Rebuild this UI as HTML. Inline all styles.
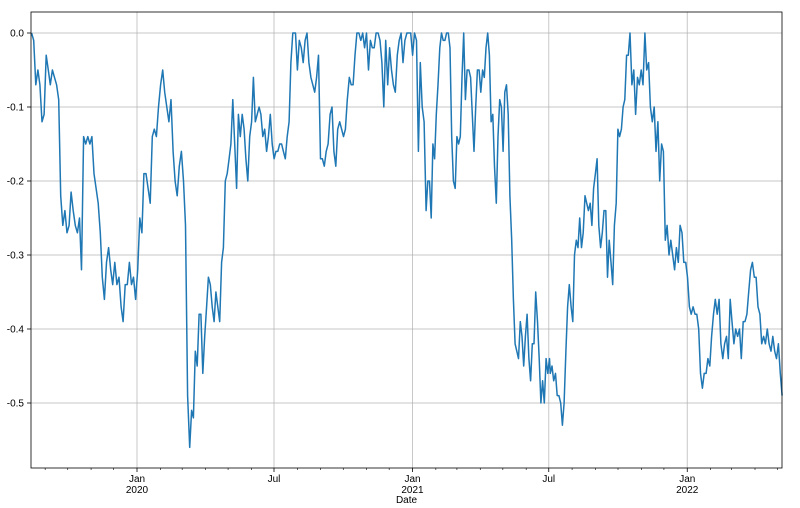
<!DOCTYPE html>
<html><head><meta charset="utf-8"><style>
html,body{margin:0;padding:0;background:#fff;}
svg{display:block;font-family:"Liberation Sans","DejaVu Sans",sans-serif;}
</style></head><body>
<svg id="chart" width="800" height="508" viewBox="0 0 800 508"></svg>
<script>
// Segment date ranges (data)
const segStarts = ["2019-08-14","2020-03-11","2020-07-27","2021-01-19","2021-05-15","2021-07-03","2021-10-17"];
const segEnds   = ["2020-03-11","2020-07-26","2021-01-19","2021-05-15","2021-07-02","2021-10-17","2022-05-07"];
const seg1 = [0,-0.01,-0.07,-0.05,-0.07,-0.12,-0.11,-0.03,-0.05,-0.07,-0.05,-0.06,-0.07,-0.09,-0.22,-0.26,-0.24,-0.27,-0.26,-0.215,-0.24,-0.26,-0.27,-0.25,-0.32,-0.14,-0.15,-0.14,-0.15,-0.14,-0.19,-0.21,-0.23,-0.27,-0.33,-0.36,-0.31,-0.29,-0.32,-0.34,-0.31,-0.34,-0.33,-0.37,-0.39,-0.34,-0.34,-0.31,-0.34,-0.33,-0.36,-0.32,-0.25,-0.27,-0.19,-0.19,-0.21,-0.23,-0.14,-0.13,-0.14,-0.1,-0.07,-0.05,-0.08,-0.1,-0.12,-0.09,-0.16,-0.2,-0.22,-0.18,-0.16,-0.2,-0.26,-0.49,-0.56];
const seg2 = [-0.56,-0.51,-0.52,-0.43,-0.45,-0.38,-0.38,-0.46,-0.41,-0.37,-0.33,-0.34,-0.37,-0.39,-0.35,-0.37,-0.39,-0.31,-0.29,-0.2,-0.19,-0.17,-0.15,-0.09,-0.15,-0.21,-0.11,-0.14,-0.11,-0.13,-0.17,-0.2,-0.14,-0.12,-0.06,-0.12,-0.11,-0.1,-0.11,-0.14,-0.13,-0.16,-0.14,-0.11,-0.15,-0.17,-0.16,-0.16,-0.15,-0.15,-0.16,-0.17,-0.14,-0.12,-0.04,0];
const seg3 = [0,0,-0.05,-0.01,-0.02,-0.04,-0.01,0,-0.04,-0.06,-0.07,-0.08,-0.06,-0.03,-0.17,-0.17,-0.18,-0.16,-0.15,-0.11,-0.1,-0.16,-0.18,-0.13,-0.12,-0.13,-0.14,-0.13,-0.09,-0.06,-0.07,-0.07,-0.03,0,0,-0.01,0,-0.02,0,-0.05,-0.01,-0.02,-0.02,0,0,-0.01,-0.04,-0.1,-0.01,-0.07,-0.02,-0.05,-0.07,-0.08,-0.03,-0.01,0,-0.04,-0.01,0,0,0,-0.03,0,-0.01,-0.16,-0.04,-0.1,-0.12,-0.24];
const seg4 = [-0.24,-0.2,-0.2,-0.25,-0.15,-0.17,-0.11,-0.07,-0.02,0,-0.01,-0.01,0,0,-0.02,-0.14,-0.2,-0.21,-0.14,-0.15,-0.14,-0.06,0,-0.09,-0.05,-0.05,-0.06,-0.11,-0.16,-0.1,-0.05,-0.05,-0.08,-0.05,-0.06,-0.02,0,-0.03,-0.12,-0.11,-0.18,-0.23,-0.14,-0.09,-0.1,-0.16,-0.08,-0.07,-0.11,-0.22,-0.28,-0.36];
const seg5 = [-0.36,-0.42,-0.43,-0.44,-0.39,-0.41,-0.45,-0.41,-0.38,-0.44,-0.47,-0.42,-0.42,-0.35,-0.39,-0.44,-0.5,-0.47,-0.5,-0.44,-0.46,-0.44];
const seg6 = [-0.46,-0.45,-0.47,-0.46,-0.49,-0.49,-0.5,-0.53,-0.5,-0.43,-0.37,-0.34,-0.37,-0.39,-0.3,-0.28,-0.29,-0.25,-0.29,-0.27,-0.22,-0.23,-0.24,-0.23,-0.26,-0.21,-0.19,-0.17,-0.26,-0.29,-0.27,-0.24,-0.24,-0.33,-0.28,-0.31,-0.34,-0.26,-0.23,-0.13,-0.14,-0.13,-0.1,-0.09,-0.03,-0.03,0];
const seg7 = [0,-0.07,-0.05,-0.11,-0.06,-0.07,-0.05,-0.07,0,-0.05,-0.04,-0.1,-0.12,-0.1,-0.16,-0.12,-0.2,-0.15,-0.16,-0.28,-0.26,-0.3,-0.28,-0.3,-0.32,-0.29,-0.31,-0.26,-0.27,-0.31,-0.31,-0.33,-0.37,-0.38,-0.37,-0.38,-0.38,-0.4,-0.46,-0.48,-0.46,-0.46,-0.44,-0.45,-0.41,-0.38,-0.36,-0.38,-0.36,-0.42,-0.44,-0.42,-0.41,-0.44,-0.36,-0.39,-0.42,-0.4,-0.41,-0.4,-0.44,-0.39,-0.39,-0.38,-0.35,-0.32,-0.31,-0.33,-0.33,-0.37,-0.38,-0.42,-0.41,-0.42,-0.4,-0.42,-0.43,-0.41,-0.43,-0.44,-0.42,-0.46,-0.49];
const yTicks = [0.0,-0.1,-0.2,-0.3,-0.4,-0.5];
const yTickLabels = ["0.0","-0.1","-0.2","-0.3","-0.4","-0.5"];
const majorTicks = ["2020-01-01","2020-07-01","2021-01-01","2021-07-01","2022-01-01"];
const majorLabels = [["Jan","2020"],["Jul",""],["Jan","2021"],["Jul",""],["Jan","2022"]];

const NS="http://www.w3.org/2000/svg";
const svg=document.getElementById('chart');
const L=31,R=782,T=12,B=468;
const DAY=86400000;
const d0=Date.parse("2020-01-01"), xAt0=137, pxPerDay=137/182;
const x=t=>xAt0+(Date.parse(t)-d0)/DAY*pxPerDay;
const xMs=ms=>xAt0+(ms-d0)/DAY*pxPerDay;
const y=v=>33-v*740;
function mk(tag,attrs,parent){const e=document.createElementNS(NS,tag);for(const k in attrs)e.setAttribute(k,attrs[k]);(parent||svg).appendChild(e);return e;}

yTicks.forEach((v,i)=>{
  const g=mk('line',{x1:L,x2:R,y1:y(v),y2:y(v),stroke:'#b0b0b0','stroke-width':1,opacity:0.7});
  
  
  const tk=mk('line',{x1:L-4,x2:L,y1:y(v),y2:y(v),stroke:'#000','stroke-width':0.8});
  
  
  const t=mk('text',{x:L-7,y:y(v)+3.5,'text-anchor':'end','font-size':10,fill:'#000'});
  t.textContent=yTickLabels[i];
  
  
});
majorTicks.forEach((d,i)=>{
  const xx=x(d);
  const g=mk('line',{x1:xx,x2:xx,y1:T,y2:B,stroke:'#b0b0b0','stroke-width':1,opacity:0.7});
  
  
  const tk=mk('line',{x1:xx,x2:xx,y1:B,y2:B+4,stroke:'#000','stroke-width':0.8});
  
  
  const t=mk('text',{x:xx,y:B+14,'text-anchor':'middle','font-size':10,fill:'#000'});
  t.textContent=majorLabels[i][0];
  
  
  if(majorLabels[i][1]){
    const t2=mk('text',{x:xx,y:B+25,'text-anchor':'middle','font-size':10,fill:'#000'});
    t2.textContent=majorLabels[i][1];
    
    
  }
});
for(let yr=2019;yr<=2022;yr++)for(let m=0;m<12;m++){
  const ms=Date.UTC(yr,m,1);const xx=xMs(ms);
  if(xx<L||xx>R||m===0||m===6)continue;
  const tk=mk('line',{x1:xx,x2:xx,y1:B,y2:B+2,stroke:'#000','stroke-width':0.6});
  
  
}
let pts=[];
[seg1,seg2,seg3,seg4,seg5,seg6,seg7].forEach((vals,s)=>{
  const a=Date.parse(segStarts[s]),b=Date.parse(segEnds[s]);
  vals.forEach((v,i)=>{const ms=a+(b-a)*i/(vals.length-1);pts.push(xMs(ms).toFixed(1)+','+y(v).toFixed(1));});
});
const line=mk('polyline',{points:pts.join(' '),fill:'none',stroke:'#1f77b4','stroke-width':1.5,'stroke-linejoin':'round'});


const fr=mk('rect',{x:L,y:T,width:R-L,height:B-T,fill:'none',stroke:'#000','stroke-width':0.8});


const xl=mk('text',{x:(L+R)/2,y:503,'text-anchor':'middle','font-size':10,fill:'#000'});
xl.textContent='Date';


</script>
</body></html>
